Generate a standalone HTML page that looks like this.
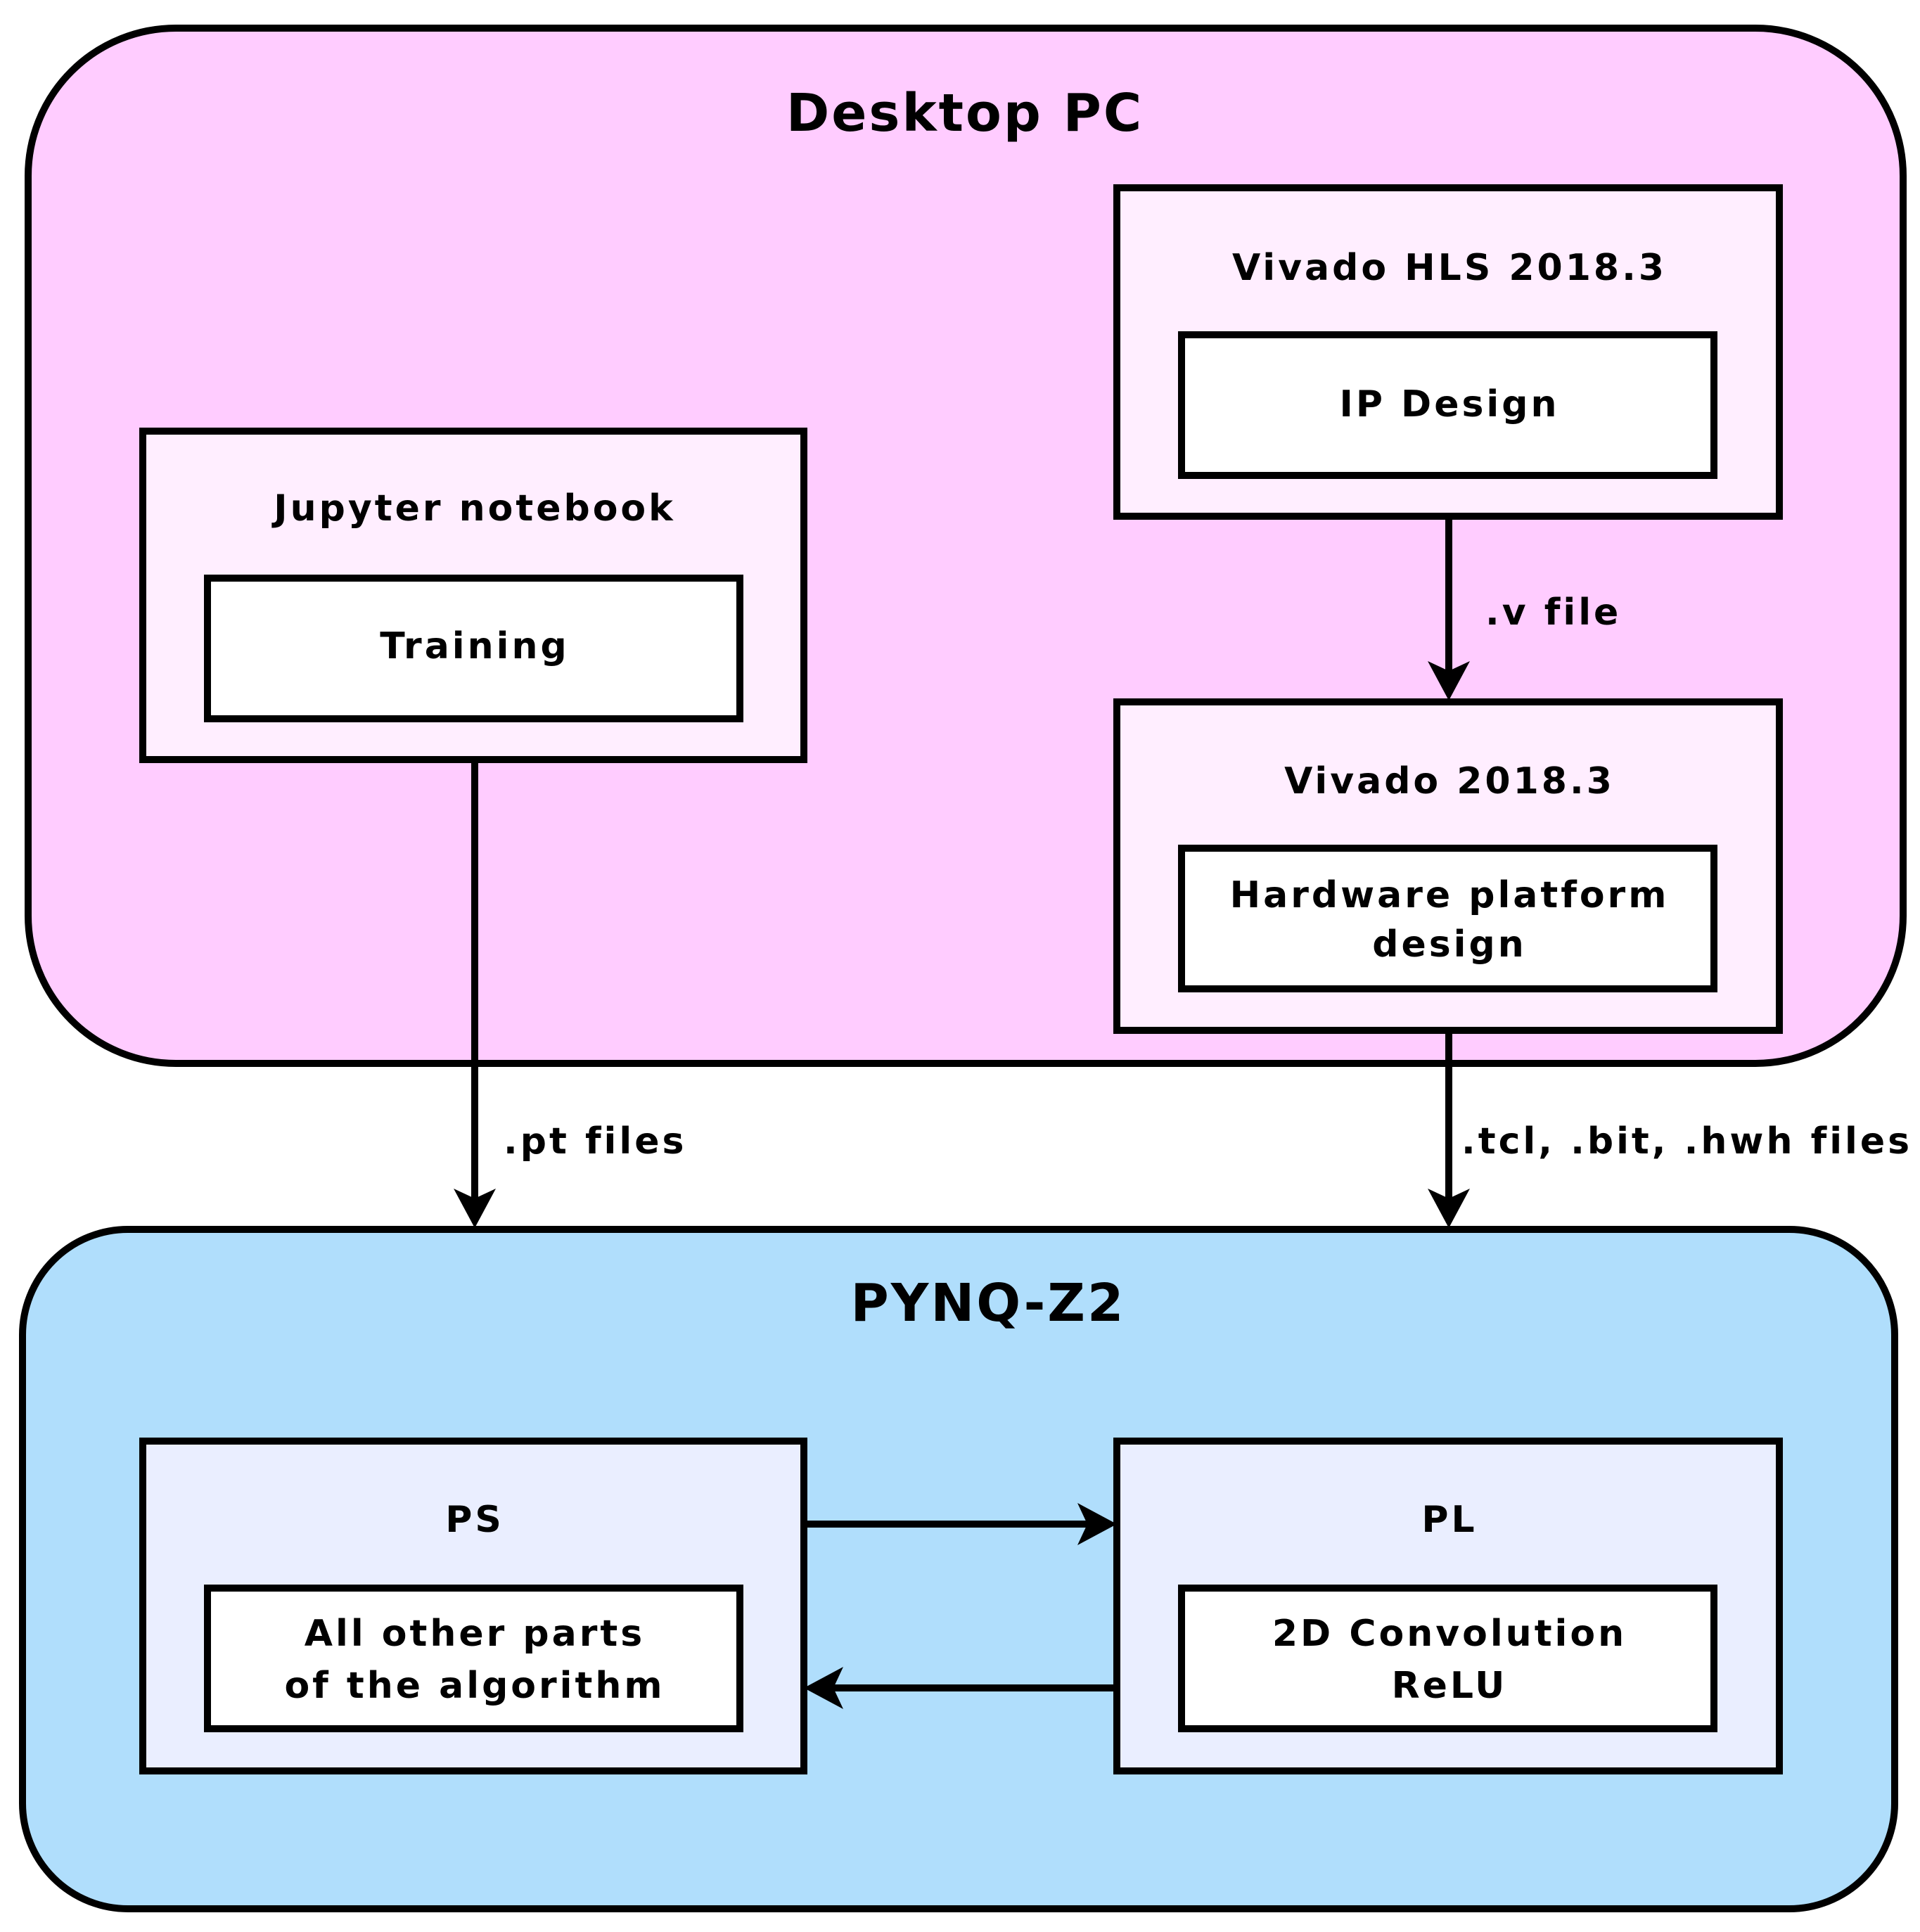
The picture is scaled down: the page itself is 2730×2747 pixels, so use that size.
<!DOCTYPE html>
<html><head><meta charset="utf-8"><style>
html,body{margin:0;padding:0;background:#fff}
svg text{font-family:"DejaVu Sans","Liberation Sans",sans-serif;font-weight:bold;fill:#000;letter-spacing:4px}
svg text.t{letter-spacing:3px}
</style></head><body>
<svg width="2730" height="2742" viewBox="0 0 2730 2742" xmlns="http://www.w3.org/2000/svg">
<!-- Desktop PC -->
<rect x="40" y="40" width="2666" height="1472" rx="210" ry="210" fill="#ffccff" stroke="#000" stroke-width="10"/>
<text class="t" x="1372" y="186" font-size="74" text-anchor="middle">Desktop PC</text>

<!-- Jupyter -->
<rect x="203" y="613" width="940" height="467" fill="#ffeeff" stroke="#000" stroke-width="10"/>
<text x="675" y="740" font-size="52" text-anchor="middle">Jupyter notebook</text>
<rect x="295" y="822" width="757" height="200" fill="#fff" stroke="#000" stroke-width="10"/>
<text x="675" y="936" font-size="52" text-anchor="middle">Training</text>

<!-- HLS -->
<rect x="1588" y="267" width="942" height="467" fill="#ffeeff" stroke="#000" stroke-width="10"/>
<text x="2061" y="398" font-size="52" text-anchor="middle">Vivado HLS 2018.3</text>
<rect x="1680" y="476" width="757" height="200" fill="#fff" stroke="#000" stroke-width="10"/>
<text x="2061" y="592" font-size="52" text-anchor="middle">IP Design</text>

<!-- Vivado -->
<rect x="1588" y="998" width="942" height="467" fill="#ffeeff" stroke="#000" stroke-width="10"/>
<text x="2061" y="1128" font-size="52" text-anchor="middle">Vivado 2018.3</text>
<rect x="1680" y="1206" width="757" height="200" fill="#fff" stroke="#000" stroke-width="10"/>
<text x="2061" y="1290" font-size="52" text-anchor="middle">Hardware platform</text>
<text x="2061" y="1360" font-size="52" text-anchor="middle">design</text>

<!-- PYNQ -->
<rect x="32" y="1748" width="2662" height="966" rx="150" ry="150" fill="#b0defc" stroke="#000" stroke-width="10"/>
<text class="t" x="1405" y="1878" font-size="74" text-anchor="middle">PYNQ-Z2</text>

<rect x="203" y="2049" width="940" height="469" fill="#eaeeff" stroke="#000" stroke-width="10"/>
<text x="675" y="2178" font-size="52" text-anchor="middle">PS</text>
<rect x="295" y="2258" width="757" height="200" fill="#fff" stroke="#000" stroke-width="10"/>
<text x="675" y="2340" font-size="52" text-anchor="middle">All other parts</text>
<text x="675" y="2414" font-size="52" text-anchor="middle">of the algorithm</text>

<rect x="1588" y="2049" width="942" height="469" fill="#eaeeff" stroke="#000" stroke-width="10"/>
<text x="2061" y="2178" font-size="52" text-anchor="middle">PL</text>
<rect x="1680" y="2258" width="757" height="200" fill="#fff" stroke="#000" stroke-width="10"/>
<text x="2061" y="2340" font-size="52" text-anchor="middle">2D Convolution</text>
<text x="2061" y="2414" font-size="52" text-anchor="middle">ReLU</text>

<!-- connectors -->
<g stroke="#000" stroke-width="10" fill="none">
<line x1="675" y1="1080" x2="675" y2="1720"/>
<line x1="2060" y1="734" x2="2060" y2="970"/>
<line x1="2060" y1="1465" x2="2060" y2="1720"/>
<line x1="1143" y1="2167" x2="1560" y2="2167"/>
<line x1="1588" y1="2400" x2="1170" y2="2400"/>
</g>
<g fill="#000">
<polygon points="675,1746 645,1690 675,1704 705,1690"/>
<polygon points="2060,996 2030,940 2060,954 2090,940"/>
<polygon points="2060,1746 2030,1690 2060,1704 2090,1690"/>
<polygon points="1588,2167 1532,2137 1546,2167 1532,2197"/>
<polygon points="1143,2400 1199,2370 1185,2400 1199,2430"/>
</g>
<text x="716" y="1640" font-size="52">.pt files</text>
<text x="2112" y="888" font-size="52">.v file</text>
<text x="2078" y="1640" font-size="52">.tcl, .bit, .hwh files</text>
</svg>
</body></html>
